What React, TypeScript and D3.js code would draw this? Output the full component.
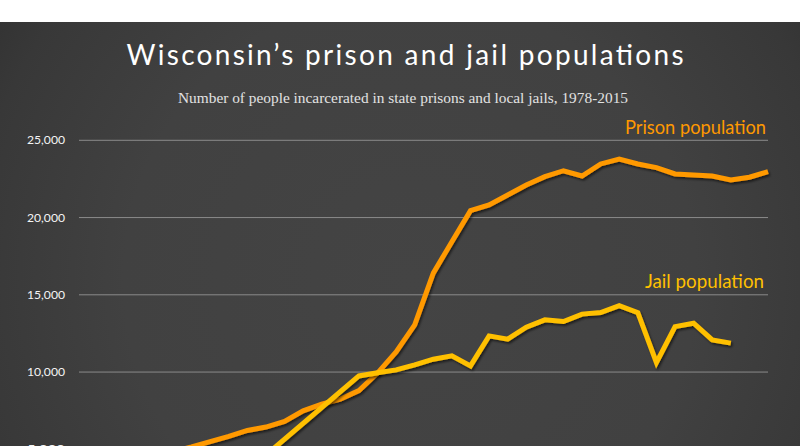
import React from "react";
import * as d3 from "d3";

// Wisconsin incarceration counts by year
const prisonYears: number[] = d3.range(1978, 2016);
const prisonValues: number[] = [
  3300, 3500, 3800, 4100, 4500, 4850, 5150, 5500, 5830, 6220,
  6440, 6800, 7490, 7920, 8250, 8800, 9930, 11300, 13050, 16400,
  18440, 20450, 20820, 21460, 22110, 22650, 23030, 22690, 23470, 23790,
  23470, 23230, 22820, 22750, 22690, 22430, 22610, 22970,
];

const jailYears: number[] = [
  1978, 1983, 1988, 1993, 1994, 1995, 1996, 1997, 1998, 1999, 2000, 2001,
  2002, 2003, 2004, 2005, 2006, 2007, 2008, 2009, 2010, 2011, 2012, 2013,
];
const jailValues: number[] = [
  2600, 3400, 4630, 9750, 9950, 10140, 10470, 10830, 11050, 10400, 12340, 12130,
  12900, 13380, 13270, 13750, 13850, 14300, 13850, 10610, 12940, 13160, 12080, 11870,
];

const yTicks: number[] = [5000, 10000, 15000, 20000, 25000];

const W = 800;
const H = 446;

const TITLE = "Wisconsin\u2019s prison and jail populations";
const SUBTITLE = "Number of people incarcerated in state prisons and local jails, 1978-2015";
const PRISON_LABEL = "Prison population";
const JAIL_LABEL = "Jail population";

const PRISON_COLOR = "#ff9900";
const JAIL_COLOR = "#ffc000";
const SANS = "Lato, 'Open Sans', 'DejaVu Sans', sans-serif";

export default function App() {
  const x = d3.scaleLinear().domain([1978, 2015]).range([80, 768]);
  const y = d3.scaleLinear().domain([5000, 25000]).range([449.3, 140.3]);

  const line = d3
    .line<[number, number]>()
    .x((d) => x(d[0]))
    .y((d) => y(d[1]));

  const prisonPath = line(prisonYears.map((yr, i) => [yr, prisonValues[i]]) as [number, number][]) || "";
  const jailPath = line(jailYears.map((yr, i) => [yr, jailValues[i]]) as [number, number][]) || "";
  const fmt = d3.format(",");

  return (
    <svg
      width={W}
      height={H}
      viewBox={`0 0 ${W} ${H}`}
      style={{ position: "fixed", left: 0, top: 0, display: "block" }}
    >
      <defs>
        <radialGradient id="bg" gradientUnits="userSpaceOnUse" cx={410} cy={280} r={520}>
          <stop offset="0" stopColor="#444444" />
          <stop offset="0.55" stopColor="#414141" />
          <stop offset="0.85" stopColor="#383838" />
          <stop offset="1" stopColor="#303030" />
        </radialGradient>
        <linearGradient id="rule" x1="0" x2="1" y1="0" y2="0">
          <stop offset="0" stopColor="#777" />
          <stop offset="0.5" stopColor="#9a9a9a" />
          <stop offset="1" stopColor="#888" />
        </linearGradient>
        <filter id="shadow" x="-5%" y="-5%" width="110%" height="115%">
          <feDropShadow dx={1.5} dy={2} stdDeviation={1.2} floodColor="#000" floodOpacity={0.55} />
        </filter>
      </defs>

      <rect x={0} y={0} width={W} height={H} fill="#ffffff" />
      <rect x={0} y={22} width={W} height={H - 22} fill="url(#bg)" />

      {/* heading */}
      <text
        x={126.5}
        y={65}
        fill="#ffffff"
        fontFamily={SANS}
        fontWeight={400}
        fontSize={28}
        textLength={557}
        lengthAdjust="spacing"
      >
        {TITLE}
      </text>
      <line x1={179} x2={627} y1={82.5} y2={82.5} stroke="url(#rule)" strokeWidth={1.2} />
      <text
        x={178}
        y={103}
        fill="#e2e2e2"
        fontFamily="'Liberation Serif', 'DejaVu Serif', serif"
        fontSize={14}
        textLength={450}
        lengthAdjust="spacingAndGlyphs"
      >
        {SUBTITLE}
      </text>

      {/* grid and value axis */}
      {yTicks.map((t) => (
        <g key={t}>
          <line x1={79} x2={768} y1={y(t)} y2={y(t)} stroke="#8a8a8a" strokeWidth={1} />
          <text
            x={65}
            y={y(t) + 4}
            textAnchor="end"
            fill="#f4f4f4"
            fontFamily={SANS}
            fontSize={11.5}
            textLength={38}
            lengthAdjust="spacingAndGlyphs"
          >
            {fmt(t)}
          </text>
        </g>
      ))}

      {/* series */}
      <path
        d={prisonPath}
        fill="none"
        stroke={PRISON_COLOR}
        strokeWidth={5}
        strokeLinejoin="miter"
        filter="url(#shadow)"
      />
      <path
        d={jailPath}
        fill="none"
        stroke={JAIL_COLOR}
        strokeWidth={5}
        strokeLinejoin="miter"
        filter="url(#shadow)"
      />

      <text
        x={766}
        y={134}
        textAnchor="end"
        fill={PRISON_COLOR}
        fontFamily={SANS}
        fontSize={19}
        textLength={141}
        lengthAdjust="spacingAndGlyphs"
      >
        {PRISON_LABEL}
      </text>
      <text
        x={764}
        y={288}
        textAnchor="end"
        fill={JAIL_COLOR}
        fontFamily={SANS}
        fontSize={19}
        textLength={119}
        lengthAdjust="spacingAndGlyphs"
      >
        {JAIL_LABEL}
      </text>
    </svg>
  );
}
